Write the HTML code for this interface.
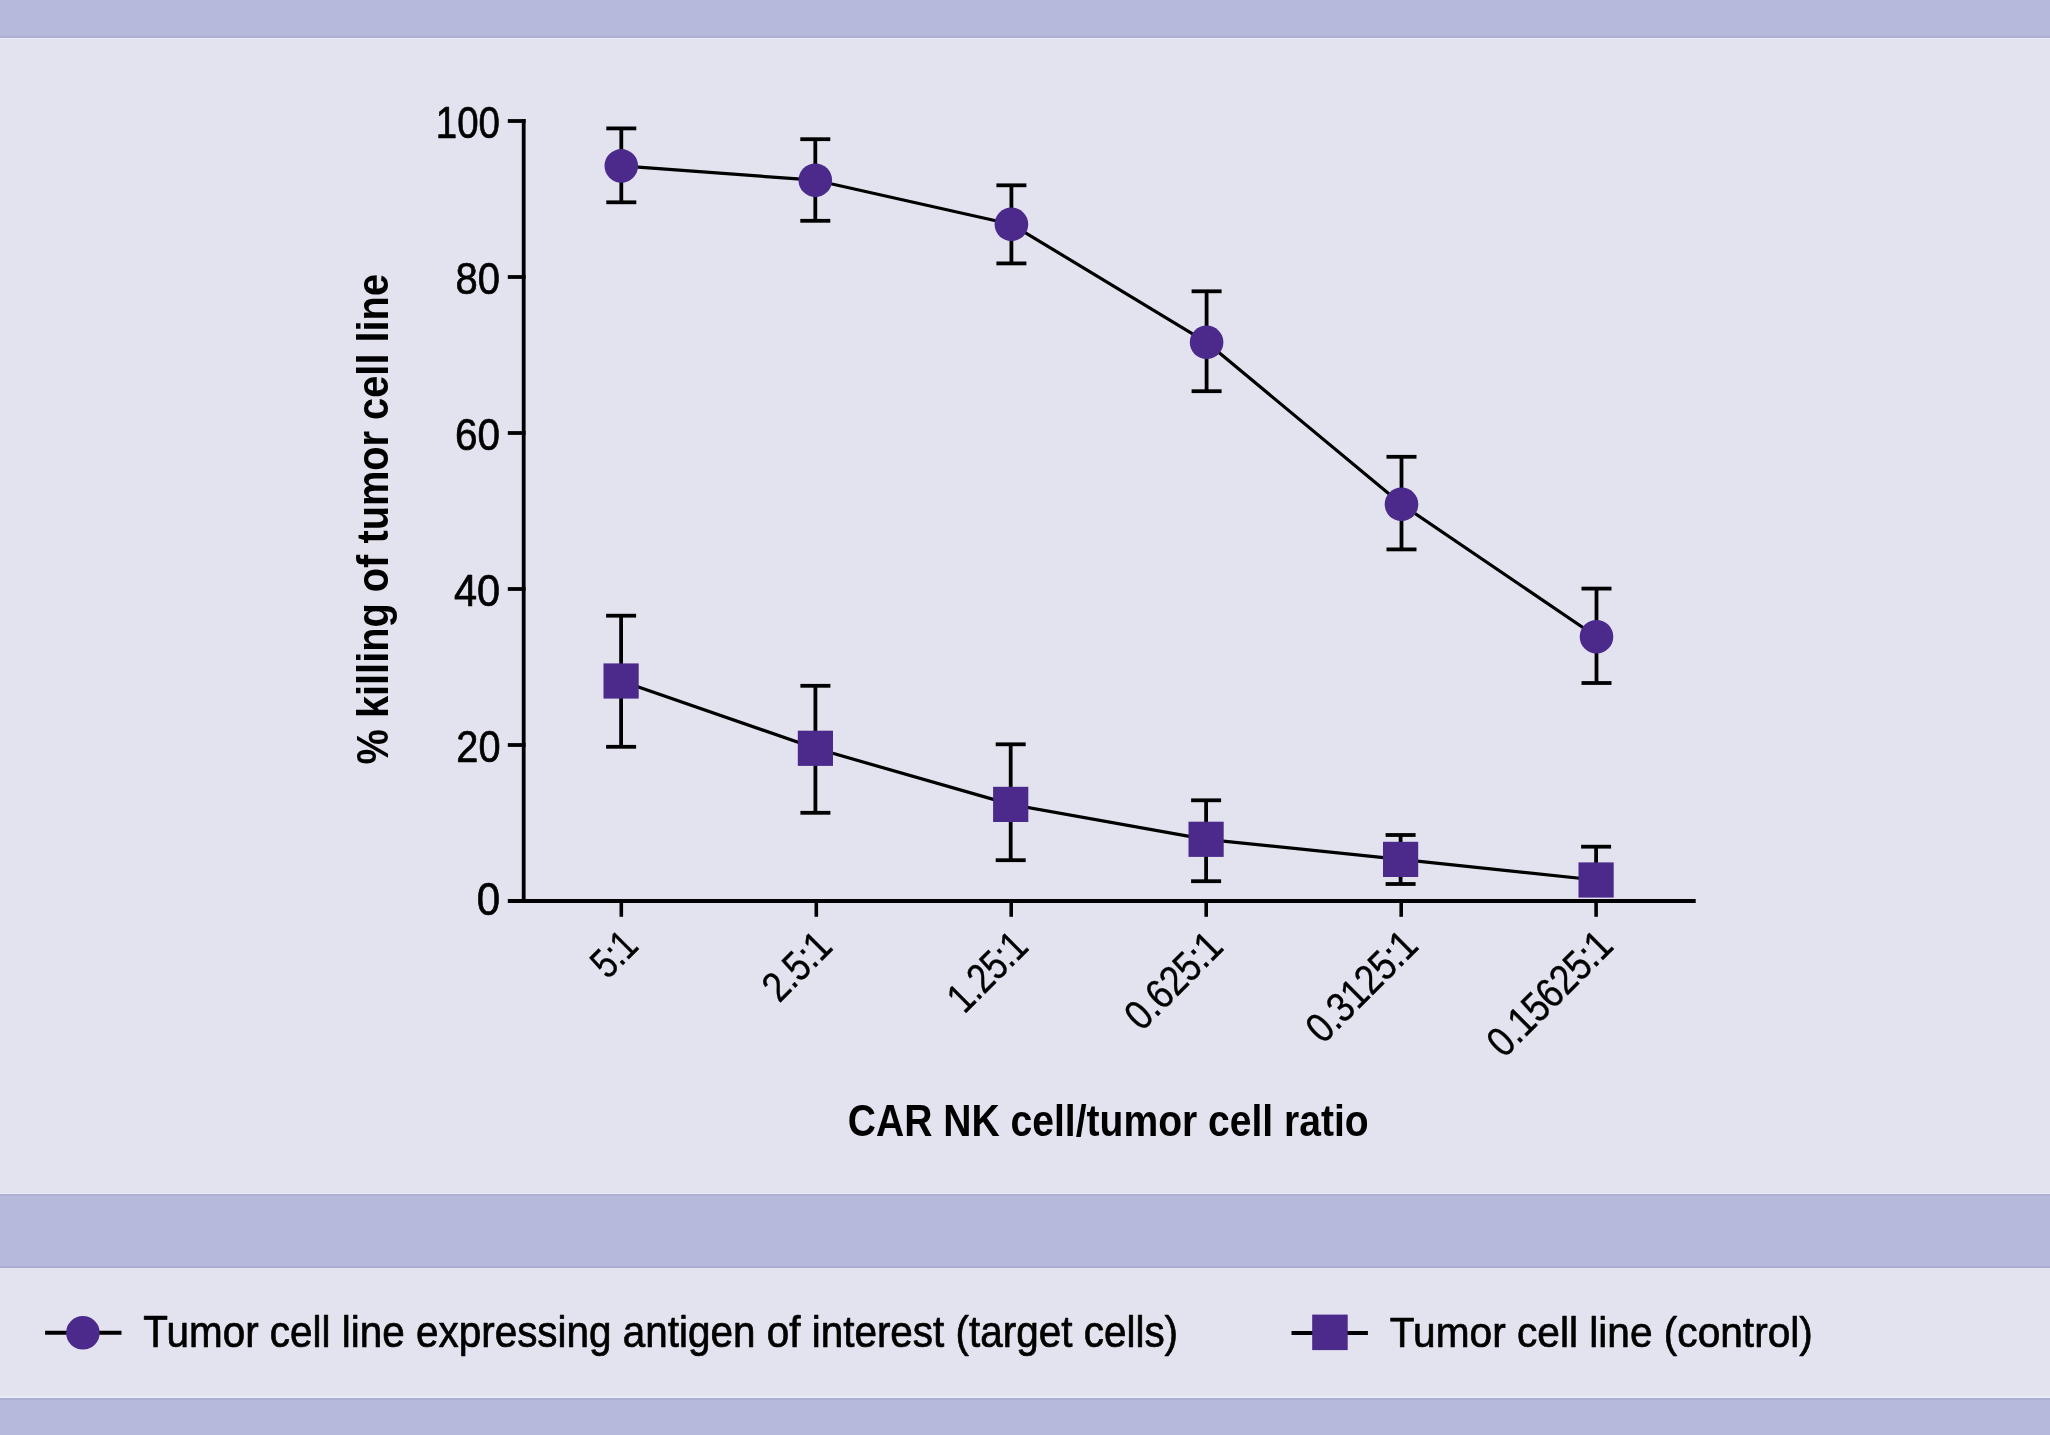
<!DOCTYPE html>
<html><head><meta charset="utf-8">
<style>
html,body{margin:0;padding:0;}
body{width:2050px;height:1435px;overflow:hidden;background:#e3e3ef;position:relative;font-family:"Liberation Sans",sans-serif;}
.band{position:absolute;left:0;width:2050px;background:#b6b8dc;}
svg{position:absolute;left:0;top:0;will-change:transform;}
</style></head><body>
<div class="band" style="top:0;height:37.7px"></div>
<div class="band" style="top:1194px;height:73.5px"></div>
<div class="band" style="top:1397.5px;height:37.5px"></div>
<div style="position:absolute;left:0;width:2050px;top:35.7px;height:2px;background:#aeb0d3"></div>
<div style="position:absolute;left:0;width:2050px;top:37.7px;height:1.5px;background:#e8ebf8"></div>
<div style="position:absolute;left:0;width:2050px;top:1192.5px;height:1.5px;background:#e6e9f6"></div>
<div style="position:absolute;left:0;width:2050px;top:1194px;height:2px;background:#aeb0d3"></div>
<div style="position:absolute;left:0;width:2050px;top:1265.5px;height:2px;background:#abadd0"></div>
<div style="position:absolute;left:0;width:2050px;top:1267.5px;height:1.5px;background:#e4e6f8"></div>
<div style="position:absolute;left:0;width:2050px;top:1396.0px;height:1.5px;background:#e8ebf8"></div>
<div style="position:absolute;left:0;width:2050px;top:1397.5px;height:2px;background:#aeb0d3"></div>
<svg width="2050" height="1435" viewBox="0 0 2050 1435" font-family="Liberation Sans, sans-serif">
<g stroke="#000" fill="none" stroke-width="3.8">
<line x1="523.7" y1="119" x2="523.7" y2="903"/>
<line x1="507.8" y1="121" x2="525.6" y2="121"/>
<line x1="507.8" y1="277" x2="525.6" y2="277"/>
<line x1="507.8" y1="433" x2="525.6" y2="433"/>
<line x1="507.8" y1="589" x2="525.6" y2="589"/>
<line x1="507.8" y1="745" x2="525.6" y2="745"/>
<line x1="507.8" y1="901" x2="1695.7" y2="901"/>
<line x1="621.3" y1="901" x2="621.3" y2="916.8" stroke-width="3.6"/>
<line x1="816.3" y1="901" x2="816.3" y2="916.8" stroke-width="3.6"/>
<line x1="1011.2" y1="901" x2="1011.2" y2="916.8" stroke-width="3.6"/>
<line x1="1206.2" y1="901" x2="1206.2" y2="916.8" stroke-width="3.6"/>
<line x1="1401.2" y1="901" x2="1401.2" y2="916.8" stroke-width="3.6"/>
<line x1="1596.1" y1="901" x2="1596.1" y2="916.8" stroke-width="3.6"/>
</g>
<text transform="translate(500.25,914.93) scale(0.9273,1)" font-size="45.35" text-anchor="end" stroke="#000" stroke-width="0.7" stroke-linejoin="round">0</text>
<text transform="translate(500.55,762.00) scale(0.9028,1)" font-size="44.00" text-anchor="end" stroke="#000" stroke-width="0.7" stroke-linejoin="round">20</text>
<text transform="translate(500.13,606.32) scale(0.9377,1)" font-size="44.31" text-anchor="end" stroke="#000" stroke-width="0.7" stroke-linejoin="round">40</text>
<text transform="translate(500.10,450.00) scale(0.9205,1)" font-size="44.00" text-anchor="end" stroke="#000" stroke-width="0.7" stroke-linejoin="round">60</text>
<text transform="translate(500.06,294.11) scale(0.9182,1)" font-size="43.56" text-anchor="end" stroke="#000" stroke-width="0.7" stroke-linejoin="round">80</text>
<text transform="translate(499.94,138.38) scale(0.8829,1)" font-size="43.56" text-anchor="end" stroke="#000" stroke-width="0.7" stroke-linejoin="round">100</text>
<polyline points="621.3,165.9 815.3,180.2 1011.4,224.3 1206.6,342.3 1401.5,504.3 1596.5,636.7" fill="none" stroke="#000" stroke-width="3.2" stroke-linejoin="round"/>
<polyline points="621.1,681.0 815.4,748.3 1010.7,804.4 1206.1,839.3 1400.6,859.4 1596.1,880.0" fill="none" stroke="#000" stroke-width="3.2" stroke-linejoin="round"/>
<g stroke="#000" stroke-width="3.8" fill="none">
<line x1="621.3" y1="128.4" x2="621.3" y2="202.3"/>
<line x1="606.3" y1="128.4" x2="636.3" y2="128.4"/>
<line x1="606.3" y1="202.3" x2="636.3" y2="202.3"/>
<line x1="815.3" y1="139.2" x2="815.3" y2="220.8"/>
<line x1="800.3" y1="139.2" x2="830.3" y2="139.2"/>
<line x1="800.3" y1="220.8" x2="830.3" y2="220.8"/>
<line x1="1011.4" y1="185.3" x2="1011.4" y2="263.4"/>
<line x1="996.4" y1="185.3" x2="1026.4" y2="185.3"/>
<line x1="996.4" y1="263.4" x2="1026.4" y2="263.4"/>
<line x1="1206.6" y1="291.3" x2="1206.6" y2="391.2"/>
<line x1="1191.6" y1="291.3" x2="1221.6" y2="291.3"/>
<line x1="1191.6" y1="391.2" x2="1221.6" y2="391.2"/>
<line x1="1401.5" y1="456.8" x2="1401.5" y2="549.4"/>
<line x1="1386.5" y1="456.8" x2="1416.5" y2="456.8"/>
<line x1="1386.5" y1="549.4" x2="1416.5" y2="549.4"/>
<line x1="1596.5" y1="588.6" x2="1596.5" y2="683.0"/>
<line x1="1581.5" y1="588.6" x2="1611.5" y2="588.6"/>
<line x1="1581.5" y1="683.0" x2="1611.5" y2="683.0"/>
<line x1="621.1" y1="615.7" x2="621.1" y2="746.8"/>
<line x1="606.1" y1="615.7" x2="636.1" y2="615.7"/>
<line x1="606.1" y1="746.8" x2="636.1" y2="746.8"/>
<line x1="815.4" y1="685.8" x2="815.4" y2="812.8"/>
<line x1="800.4" y1="685.8" x2="830.4" y2="685.8"/>
<line x1="800.4" y1="812.8" x2="830.4" y2="812.8"/>
<line x1="1010.7" y1="744.3" x2="1010.7" y2="860.2"/>
<line x1="995.7" y1="744.3" x2="1025.7" y2="744.3"/>
<line x1="995.7" y1="860.2" x2="1025.7" y2="860.2"/>
<line x1="1206.1" y1="800.3" x2="1206.1" y2="881.2"/>
<line x1="1191.1" y1="800.3" x2="1221.1" y2="800.3"/>
<line x1="1191.1" y1="881.2" x2="1221.1" y2="881.2"/>
<line x1="1400.6" y1="835.0" x2="1400.6" y2="884.0"/>
<line x1="1385.6" y1="835.0" x2="1415.6" y2="835.0"/>
<line x1="1385.6" y1="884.0" x2="1415.6" y2="884.0"/>
<line x1="1596.1" y1="846.7" x2="1596.1" y2="880.0"/>
<line x1="1581.1" y1="846.7" x2="1611.1" y2="846.7"/>
</g>
<g fill="#4b2a8c">
<circle cx="621.3" cy="165.9" r="16.8"/>
<circle cx="815.3" cy="180.2" r="16.8"/>
<circle cx="1011.4" cy="224.3" r="16.8"/>
<circle cx="1206.6" cy="342.3" r="16.8"/>
<circle cx="1401.5" cy="504.3" r="16.8"/>
<circle cx="1596.5" cy="636.7" r="16.8"/>
<rect x="603.5" y="663.4" width="35.2" height="35.2"/>
<rect x="797.8" y="730.7" width="35.2" height="35.2"/>
<rect x="993.1" y="786.8" width="35.2" height="35.2"/>
<rect x="1188.5" y="821.7" width="35.2" height="35.2"/>
<rect x="1383.0" y="841.8" width="35.2" height="35.2"/>
<rect x="1578.5" y="862.4" width="35.2" height="35.2"/>
</g>
<text transform="translate(640.00,948.00) rotate(-45) scale(0.8035,1)" font-size="42.00" text-anchor="end" stroke="#000" stroke-width="0.35" stroke-linejoin="round" letter-spacing="-0.600">5:1</text>
<text transform="translate(834.00,949.00) rotate(-45) scale(0.8584,1)" font-size="42.00" text-anchor="end" stroke="#000" stroke-width="0.35" stroke-linejoin="round" letter-spacing="-0.600">2.5:1</text>
<text transform="translate(1030.00,949.00) rotate(-45) scale(0.8209,1)" font-size="42.00" text-anchor="end" stroke="#000" stroke-width="0.35" stroke-linejoin="round" letter-spacing="-0.600">1.25:1</text>
<text transform="translate(1225.00,949.00) rotate(-45) scale(0.8658,1)" font-size="42.00" text-anchor="end" stroke="#000" stroke-width="0.35" stroke-linejoin="round" letter-spacing="-0.600">0.625:1</text>
<text transform="translate(1420.00,948.00) rotate(-45) scale(0.8652,1)" font-size="42.00" text-anchor="end" stroke="#000" stroke-width="0.35" stroke-linejoin="round" letter-spacing="-0.600">0.3125:1</text>
<text transform="translate(1615.00,948.00) rotate(-45) scale(0.8651,1)" font-size="42.00" text-anchor="end" stroke="#000" stroke-width="0.35" stroke-linejoin="round" letter-spacing="-0.600">0.15625:1</text>
<text transform="translate(847.80,1135.72) scale(0.8677,1)" font-size="45.03" text-anchor="start" font-weight="bold">CAR NK cell/tumor cell ratio</text>
<text transform="translate(388.42,764.52) rotate(-90) scale(0.9044,1)" font-size="43.98" text-anchor="start" font-weight="bold">% killing of tumor cell line</text>
<line x1="45.1" y1="1332.8" x2="121.5" y2="1332.8" stroke="#000" stroke-width="4"/>
<circle cx="82.9" cy="1332.8" r="16.8" fill="#4b2a8c"/>
<text transform="translate(143.26,1347.37) scale(0.9298,1)" font-size="43.50" text-anchor="start" stroke="#000" stroke-width="0.7" stroke-linejoin="round">Tumor cell line expressing antigen of interest (target cells)</text>
<line x1="1291.5" y1="1333" x2="1367.9" y2="1333" stroke="#000" stroke-width="4"/>
<rect x="1312.2" y="1314.6" width="35.5" height="35.5" fill="#4b2a8c"/>
<text transform="translate(1389.80,1347.46) scale(0.9374,1)" font-size="43.37" text-anchor="start" stroke="#000" stroke-width="0.7" stroke-linejoin="round">Tumor cell line (control)</text>
</svg>
</body></html>
